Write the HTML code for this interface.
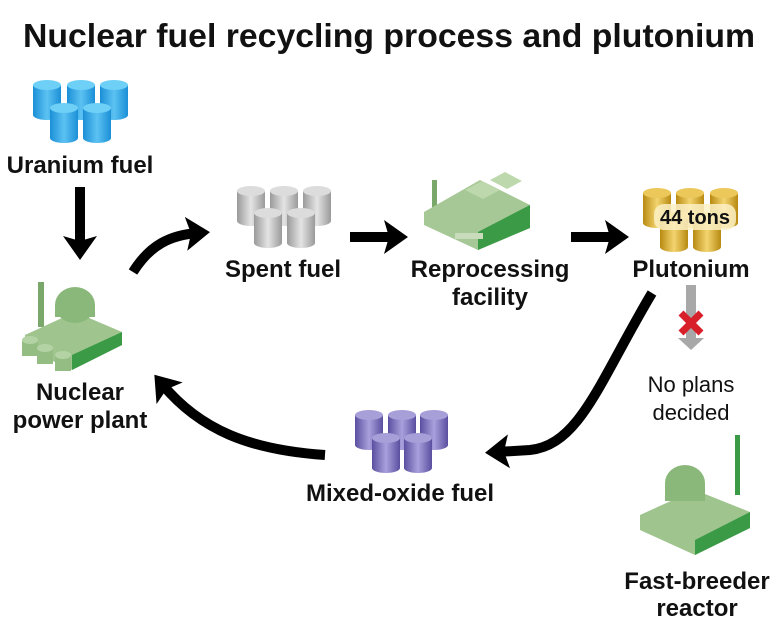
<!DOCTYPE html>
<html><head><meta charset="utf-8"><style>
body{margin:0;background:#fff}
svg text{font-family:"Liberation Sans",Arial,sans-serif;font-weight:bold;fill:#111;text-anchor:middle}
</style></head><body>
<svg width="780" height="632" viewBox="0 0 780 632" xmlns="http://www.w3.org/2000/svg">
<defs>
<marker id="ah" markerWidth="3" markerHeight="3.4" refX="1.2" refY="1.7" orient="auto" markerUnits="strokeWidth"><path d="M0,0 L2.4,1.7 L0,3.4 L0.5,1.7 Z" fill="#000"/></marker>
<linearGradient id="gb" x1="0" x2="1"><stop offset="0" stop-color="#1b8fd6"/><stop offset=".5" stop-color="#5cc2f2"/><stop offset="1" stop-color="#1b8fd6"/></linearGradient>
<linearGradient id="gg" x1="0" x2="1"><stop offset="0" stop-color="#9a9a9a"/><stop offset=".5" stop-color="#e4e4e4"/><stop offset="1" stop-color="#9a9a9a"/></linearGradient>
<linearGradient id="gp" x1="0" x2="1"><stop offset="0" stop-color="#5a4fa0"/><stop offset=".5" stop-color="#a9a0dc"/><stop offset="1" stop-color="#5a4fa0"/></linearGradient>
<linearGradient id="gy" x1="0" x2="1"><stop offset="0" stop-color="#b88a10"/><stop offset=".5" stop-color="#f3d470"/><stop offset="1" stop-color="#b88a10"/></linearGradient>
<symbol id="cb" viewBox="0 0 28 40"><rect x="0" y="5" width="28" height="30" fill="url(#gb)"/><ellipse cx="14" cy="35" rx="14" ry="5" fill="url(#gb)"/><ellipse cx="14" cy="5" rx="14" ry="5" fill="#6fd0f7"/></symbol>
<symbol id="cg" viewBox="0 0 28 40"><rect x="0" y="5" width="28" height="30" fill="url(#gg)"/><ellipse cx="14" cy="35" rx="14" ry="5" fill="url(#gg)"/><ellipse cx="14" cy="5" rx="14" ry="5" fill="#dcdcdc"/></symbol>
<symbol id="cp" viewBox="0 0 28 40"><rect x="0" y="5" width="28" height="30" fill="url(#gp)"/><ellipse cx="14" cy="35" rx="14" ry="5" fill="url(#gp)"/><ellipse cx="14" cy="5" rx="14" ry="5" fill="#a79fd8"/></symbol>
<symbol id="cy" viewBox="0 0 28 40"><rect x="0" y="5" width="28" height="30" fill="url(#gy)"/><ellipse cx="14" cy="35" rx="14" ry="5" fill="url(#gy)"/><ellipse cx="14" cy="5" rx="14" ry="5" fill="#ecc75a"/></symbol>
</defs>

<text x="389" y="47" font-size="33" textLength="732" lengthAdjust="spacingAndGlyphs">Nuclear fuel recycling process and plutonium</text>

<!-- uranium -->
<g><use href="#cb" x="33" y="80" width="28" height="40"/><use href="#cb" x="67" y="80" width="28" height="40"/><use href="#cb" x="100" y="80" width="28" height="40"/><use href="#cb" x="50" y="103" width="28" height="40"/><use href="#cb" x="83" y="103" width="28" height="40"/></g>
<text x="80" y="173" font-size="24">Uranium fuel</text>

<!-- spent -->
<g><use href="#cg" x="237" y="186" width="28" height="40"/><use href="#cg" x="270" y="186" width="28" height="40"/><use href="#cg" x="303" y="186" width="28" height="40"/><use href="#cg" x="254" y="208" width="28" height="40"/><use href="#cg" x="287" y="208" width="28" height="40"/></g>
<text x="283" y="277" font-size="24">Spent fuel</text>

<!-- plutonium -->
<g><use href="#cy" x="643" y="188" width="28" height="40"/><use href="#cy" x="676" y="188" width="28" height="40"/><use href="#cy" x="710" y="188" width="28" height="40"/><use href="#cy" x="660" y="212" width="28" height="40"/><use href="#cy" x="693" y="212" width="28" height="40"/></g>
<rect x="654" y="204" width="82" height="26" rx="10" fill="#fbf0c4" opacity=".85"/>
<text x="695" y="224" font-size="20">44 tons</text>
<text x="691" y="277" font-size="24">Plutonium</text>

<!-- mox -->
<g><use href="#cp" x="355" y="410" width="28" height="40"/><use href="#cp" x="388" y="410" width="28" height="40"/><use href="#cp" x="420" y="410" width="28" height="40"/><use href="#cp" x="372" y="433" width="28" height="40"/><use href="#cp" x="404" y="433" width="28" height="40"/></g>
<text x="400" y="501" font-size="24">Mixed-oxide fuel</text>

<!-- reprocessing facility -->
<g>
<rect x="432" y="180" width="5" height="30" fill="#7aa86a"/>
<polygon points="424,212 480,180 530,205 530,228 478,250 424,225" fill="#a6c896"/>
<polygon points="478,232 530,205 530,228 478,250" fill="#3a9a45"/>
<polygon points="465,190 482,181 500,190 483,199" fill="#bcd8ac"/>
<polygon points="490,180 505,172 522,181 507,189" fill="#bcd8ac"/>
<rect x="455" y="233" width="28" height="6" fill="#c8dcbc"/>
</g>
<text x="490" y="277" font-size="24">Reprocessing</text>
<text x="490" y="305" font-size="24">facility</text>

<!-- nuclear power plant -->
<g>
<rect x="38" y="282" width="6" height="45" fill="#7aa86a"/>
<polygon points="25,335 75,312 122,332 122,345 72,370 25,348" fill="#9fc48e"/>
<polygon points="72,355 122,332 122,345 72,370" fill="#3a9a45"/>
<ellipse cx="75" cy="305" rx="20" ry="18" fill="#8ab87a"/>
<rect x="55" y="305" width="40" height="12" fill="#8ab87a"/>
<rect x="22" y="340" width="16" height="16" fill="#94bd84"/><ellipse cx="30" cy="340" rx="8" ry="4" fill="#b4d3a4"/>
<rect x="37" y="348" width="16" height="16" fill="#94bd84"/><ellipse cx="45" cy="348" rx="8" ry="4" fill="#b4d3a4"/>
<rect x="55" y="355" width="16" height="16" fill="#94bd84"/><ellipse cx="63" cy="355" rx="8" ry="4" fill="#b4d3a4"/>
</g>
<text x="80" y="400" font-size="24">Nuclear</text>
<text x="80" y="428" font-size="24">power plant</text>

<!-- fast breeder -->
<g>
<rect x="735" y="435" width="5" height="60" fill="#3a9a45"/>
<polygon points="640,515 695,490 750,512 750,528 695,555 640,530" fill="#9fc48e"/>
<polygon points="695,540 750,512 750,528 695,555" fill="#3a9a45"/>
<ellipse cx="685" cy="483" rx="20" ry="18" fill="#8ab87a"/>
<rect x="665" y="483" width="40" height="18" fill="#8ab87a"/>
</g>
<text x="697" y="589" font-size="24">Fast-breeder</text>
<text x="697" y="616" font-size="24">reactor</text>

<!-- arrows -->
<g stroke="#000" stroke-width="10" fill="none" marker-end="url(#ah)">
<path d="M80,187 V248"/>
<path d="M133,272 C150,245 170,235 198,233"/>
<path d="M350,237 H396"/>
<path d="M571,237 H617"/>
<path d="M652,293 C600,380 580,445 530,450 L497,452"/>
<path d="M325,455 C250,450 200,430 162,384"/>
</g>
<!-- gray arrow & X -->
<rect x="686" y="285" width="10" height="55" fill="#a8a8a8"/>
<polygon points="678,338 704,338 691,350" fill="#a8a8a8"/>
<g stroke="#d8202a" stroke-width="7"><line x1="681" y1="313" x2="701" y2="333"/><line x1="701" y1="313" x2="681" y2="333"/></g>
<text x="691" y="392" font-size="22" style="font-weight:normal">No plans</text>
<text x="691" y="420" font-size="22" style="font-weight:normal">decided</text>
</svg>
</body></html>
